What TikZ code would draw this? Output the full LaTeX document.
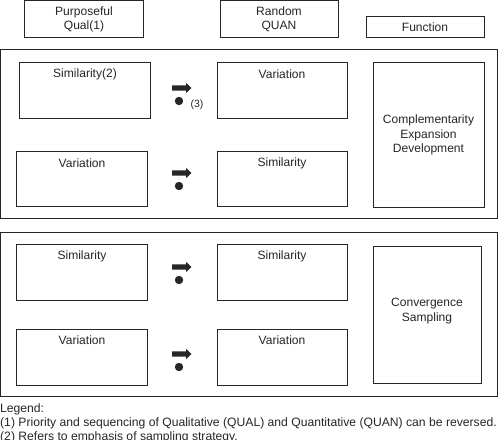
\documentclass[tikz,border=0pt]{standalone}
\usepackage{fontspec}
\setmainfont{Liberation Sans}
\begin{document}
\begin{tikzpicture}[x=1bp,y=-1bp,
  box/.style={draw=black!85,line width=1bp,inner sep=0pt},
  txt/.style={font=\fontsize{12.1}{14.5}\selectfont,inner sep=0pt,align=center,text=black!85},
  legtxt/.style={font=\fontsize{12.2}{14}\selectfont,inner sep=0pt,anchor=west,text=black!85},
  fatarrow/.style={fill=black!85,draw=none},
  dotmark/.style={fill=black!85,draw=none}]
\useasboundingbox (0,0) rectangle (500,440);
\clip (0,0) rectangle (500,440);
% header
\node[box,minimum width=118bp,minimum height=37bp] (hq) at (84,19.5) {};
\node[txt] (hqt) at (hq.center) {Purposeful\\Qual(1)};
\node[box,minimum width=118bp,minimum height=37bp] (hr) at (279,19.5) {};
\node[txt] (hrt) at (hr.center) {Random\\QUAN};
\node[box,minimum width=118bp,minimum height=21bp] (hf) at (425,27.5) {};
\node[txt] (hft) at (hf.center) {Function};
% outer boxes
\node[box,minimum width=496bp,minimum height=168bp] (o1) at (249,134) {};
\node[box,minimum width=496bp,minimum height=163bp] (o2) at (249,314.5) {};
% group 1
\node[box,minimum width=130bp,minimum height=56bp] (a1) at (85,91) {};
\node[txt] (a1t) at ([yshift=-12bp]a1.north) {Similarity(2)};
\node[box,minimum width=130bp,minimum height=56bp] (b1) at (282,91) {};
\node[txt] (b1t) at ([yshift=-12bp]b1.north) {Variation};
\node[box,minimum width=130bp,minimum height=55bp] (a2) at (82,179.5) {};
\node[txt] (a2t) at ([yshift=-12bp]a2.north) {Variation};
\node[box,minimum width=130bp,minimum height=55bp] (b2) at (282,179.5) {};
\node[txt] (b2t) at ([yshift=-12bp]b2.north) {Similarity};
\node[box,minimum width=111bp,minimum height=144bp] (f1) at (428.5,135) {};
\node[txt] (f1t) at (f1.center) {Complementarity\\Expansion\\Development};
% group 2
\node[box,minimum width=130bp,minimum height=55bp] (a3) at (82,272.5) {};
\node[txt] (a3t) at ([yshift=-12bp]a3.north) {Similarity};
\node[box,minimum width=130bp,minimum height=55bp] (b3) at (282,272.5) {};
\node[txt] (b3t) at ([yshift=-12bp]b3.north) {Similarity};
\node[box,minimum width=130bp,minimum height=56bp] (a4) at (82,357) {};
\node[txt] (a4t) at ([yshift=-12bp]a4.north) {Variation};
\node[box,minimum width=130bp,minimum height=56bp] (b4) at (282,357) {};
\node[txt] (b4t) at ([yshift=-12bp]b4.north) {Variation};
\node[box,minimum width=108bp,minimum height=136bp] (f2) at (427,315) {};
\node[txt] (f2t) at ([yshift=4bp]f2.center) {Convergence\\Sampling};
% arrows and dots
\foreach \yy/\nm in {88/r1,173/r2,267/r3,354/r4}{
  \coordinate (\nm) at (172,\yy);
  \fill[fatarrow] ([shift={(0,-2.6)}]\nm) -- ++(14,0) -- ++(0,-2.6) -- ++(5.5,5.2) -- ++(-5.5,5.2) -- ++(0,-2.6) -- ++(-14,0) -- cycle;
  \fill[dotmark] ([shift={(7,13)}]\nm) circle (4.2bp);
}
\node[txt,font=\fontsize{10.5}{12}\selectfont] (n3) at (197,105) {(3)};
% legend
\node[legtxt] (l0) at (0,409) {Legend:};
\node[legtxt] (l1) at (0,423) {(1) Priority and sequencing of Qualitative (QUAL) and Quantitative (QUAN) can be reversed.};
\node[legtxt] (l2) at (0,437.5) {(2) Refers to emphasis of sampling strategy.};
\end{tikzpicture}
\end{document}
